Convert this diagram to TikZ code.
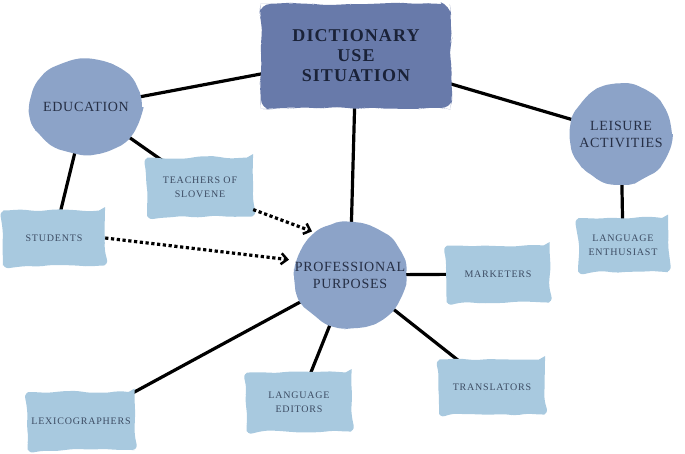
\documentclass[tikz,border=0pt]{standalone}
\usepackage{fontspec}
\setmainfont{Liberation Serif}
\usetikzlibrary{shapes.geometric,decorations.pathmorphing,arrows.meta}
\definecolor{dictc}{HTML}{687AAA}
\definecolor{blobc}{HTML}{8CA3C8}
\definecolor{boxc}{HTML}{A8C9DF}
\definecolor{darkt}{HTML}{1A2238}
\definecolor{blobt}{HTML}{262F45}
\definecolor{boxt}{HTML}{3D4C63}
\pgfdeclarelayer{bg}
\pgfsetlayers{bg,main}
\begin{document}
\begin{tikzpicture}[x=1pt,y=-1pt,
  wob/.style={decorate,decoration={random steps,segment length=10pt,amplitude=1.3pt},rounded corners=6pt},
  dictbox/.style={wob,rounded corners=10pt,fill=dictc,minimum width=190pt,minimum height=104pt,align=center,text=darkt,
    font=\fontsize{18}{20}\selectfont\bfseries\addfontfeatures{LetterSpace=6}},
  blob/.style={ellipse,wob,fill=blobc,inner sep=0pt},
  blobtext/.style={align=center,text=blobt,inner sep=0pt,
    font=\fontsize{14}{17}\selectfont\addfontfeatures{LetterSpace=5}},
  lbox/.style={wob,fill=boxc,align=center,text=boxt,inner sep=0pt,
    font=\fontsize{10}{14}\selectfont\addfontfeatures{LetterSpace=8}},
  conn/.style={line width=3.2pt,black},
  dotarrow/.style={line width=3.2pt,black,dash pattern=on 3.2pt off 2.6pt,
    -{Straight Barb[length=6pt,width=11pt,line width=2.5pt]}}
]
\useasboundingbox (0,0) rectangle (685,453);

\node[dictbox] (dict) at (356,56) {DICTIONARY\\USE\\SITUATION};
\node[blob,minimum width=112pt,minimum height=96pt] (edu) at (86,107) {};
\node[blobtext] (edut) at (edu.center) {EDUCATION};
\node[blob,minimum width=102pt,minimum height=100pt] (leis) at (621,134) {};
\node[blobtext] (leist) at (leis.center) {LEISURE\\ACTIVITIES};
\node[blob,minimum width=112pt,minimum height=106pt] (prof) at (350,275) {};
\node[blobtext] (proft) at (prof.center) {PROFESSIONAL\\PURPOSES};

\node[lbox,minimum width=106pt,minimum height=59pt] (teach) at (200,187) {TEACHERS OF\\SLOVENE};
\node[lbox,minimum width=102pt,minimum height=55pt] (stud) at (54,238) {STUDENTS};
\node[lbox,minimum width=103pt,minimum height=57pt] (mark) at (498,274) {MARKETERS};
\node[lbox,minimum width=90pt,minimum height=54pt] (enth) at (623,245) {LANGUAGE\\ENTHUSIAST};
\node[lbox,minimum width=107pt,minimum height=58pt] (lex) at (81,421) {LEXICOGRAPHERS};
\node[lbox,minimum width=105pt,minimum height=59pt] (edit) at (299,402) {LANGUAGE\\EDITORS};
\node[lbox,minimum width=106pt,minimum height=55pt] (trans) at (492,387) {TRANSLATORS};

\begin{pgfonlayer}{bg}
\draw[conn] (dict.center) -- (edu.center);
\draw[conn] (dict.center) -- (leis.center);
\draw[conn] (dict.center) -- (prof.center);
\draw[conn] (edu.center) -- (stud.center);
\draw[conn] (edu.center) -- (teach.center);
\draw[conn] (leis.center) -- (enth.center);
\draw[conn] (prof.center) -- (mark.center);
\draw[conn] (prof.center) -- (lex.center);
\draw[conn] (prof.center) -- (edit.center);
\draw[conn] (prof.center) -- (trans.center);
\end{pgfonlayer}

\draw[dotarrow,shorten >=4pt] (teach.-23) -- (prof.129);
\draw[dotarrow,shorten >=7pt] (stud.east) -- (prof.165);
\end{tikzpicture}
\end{document}
